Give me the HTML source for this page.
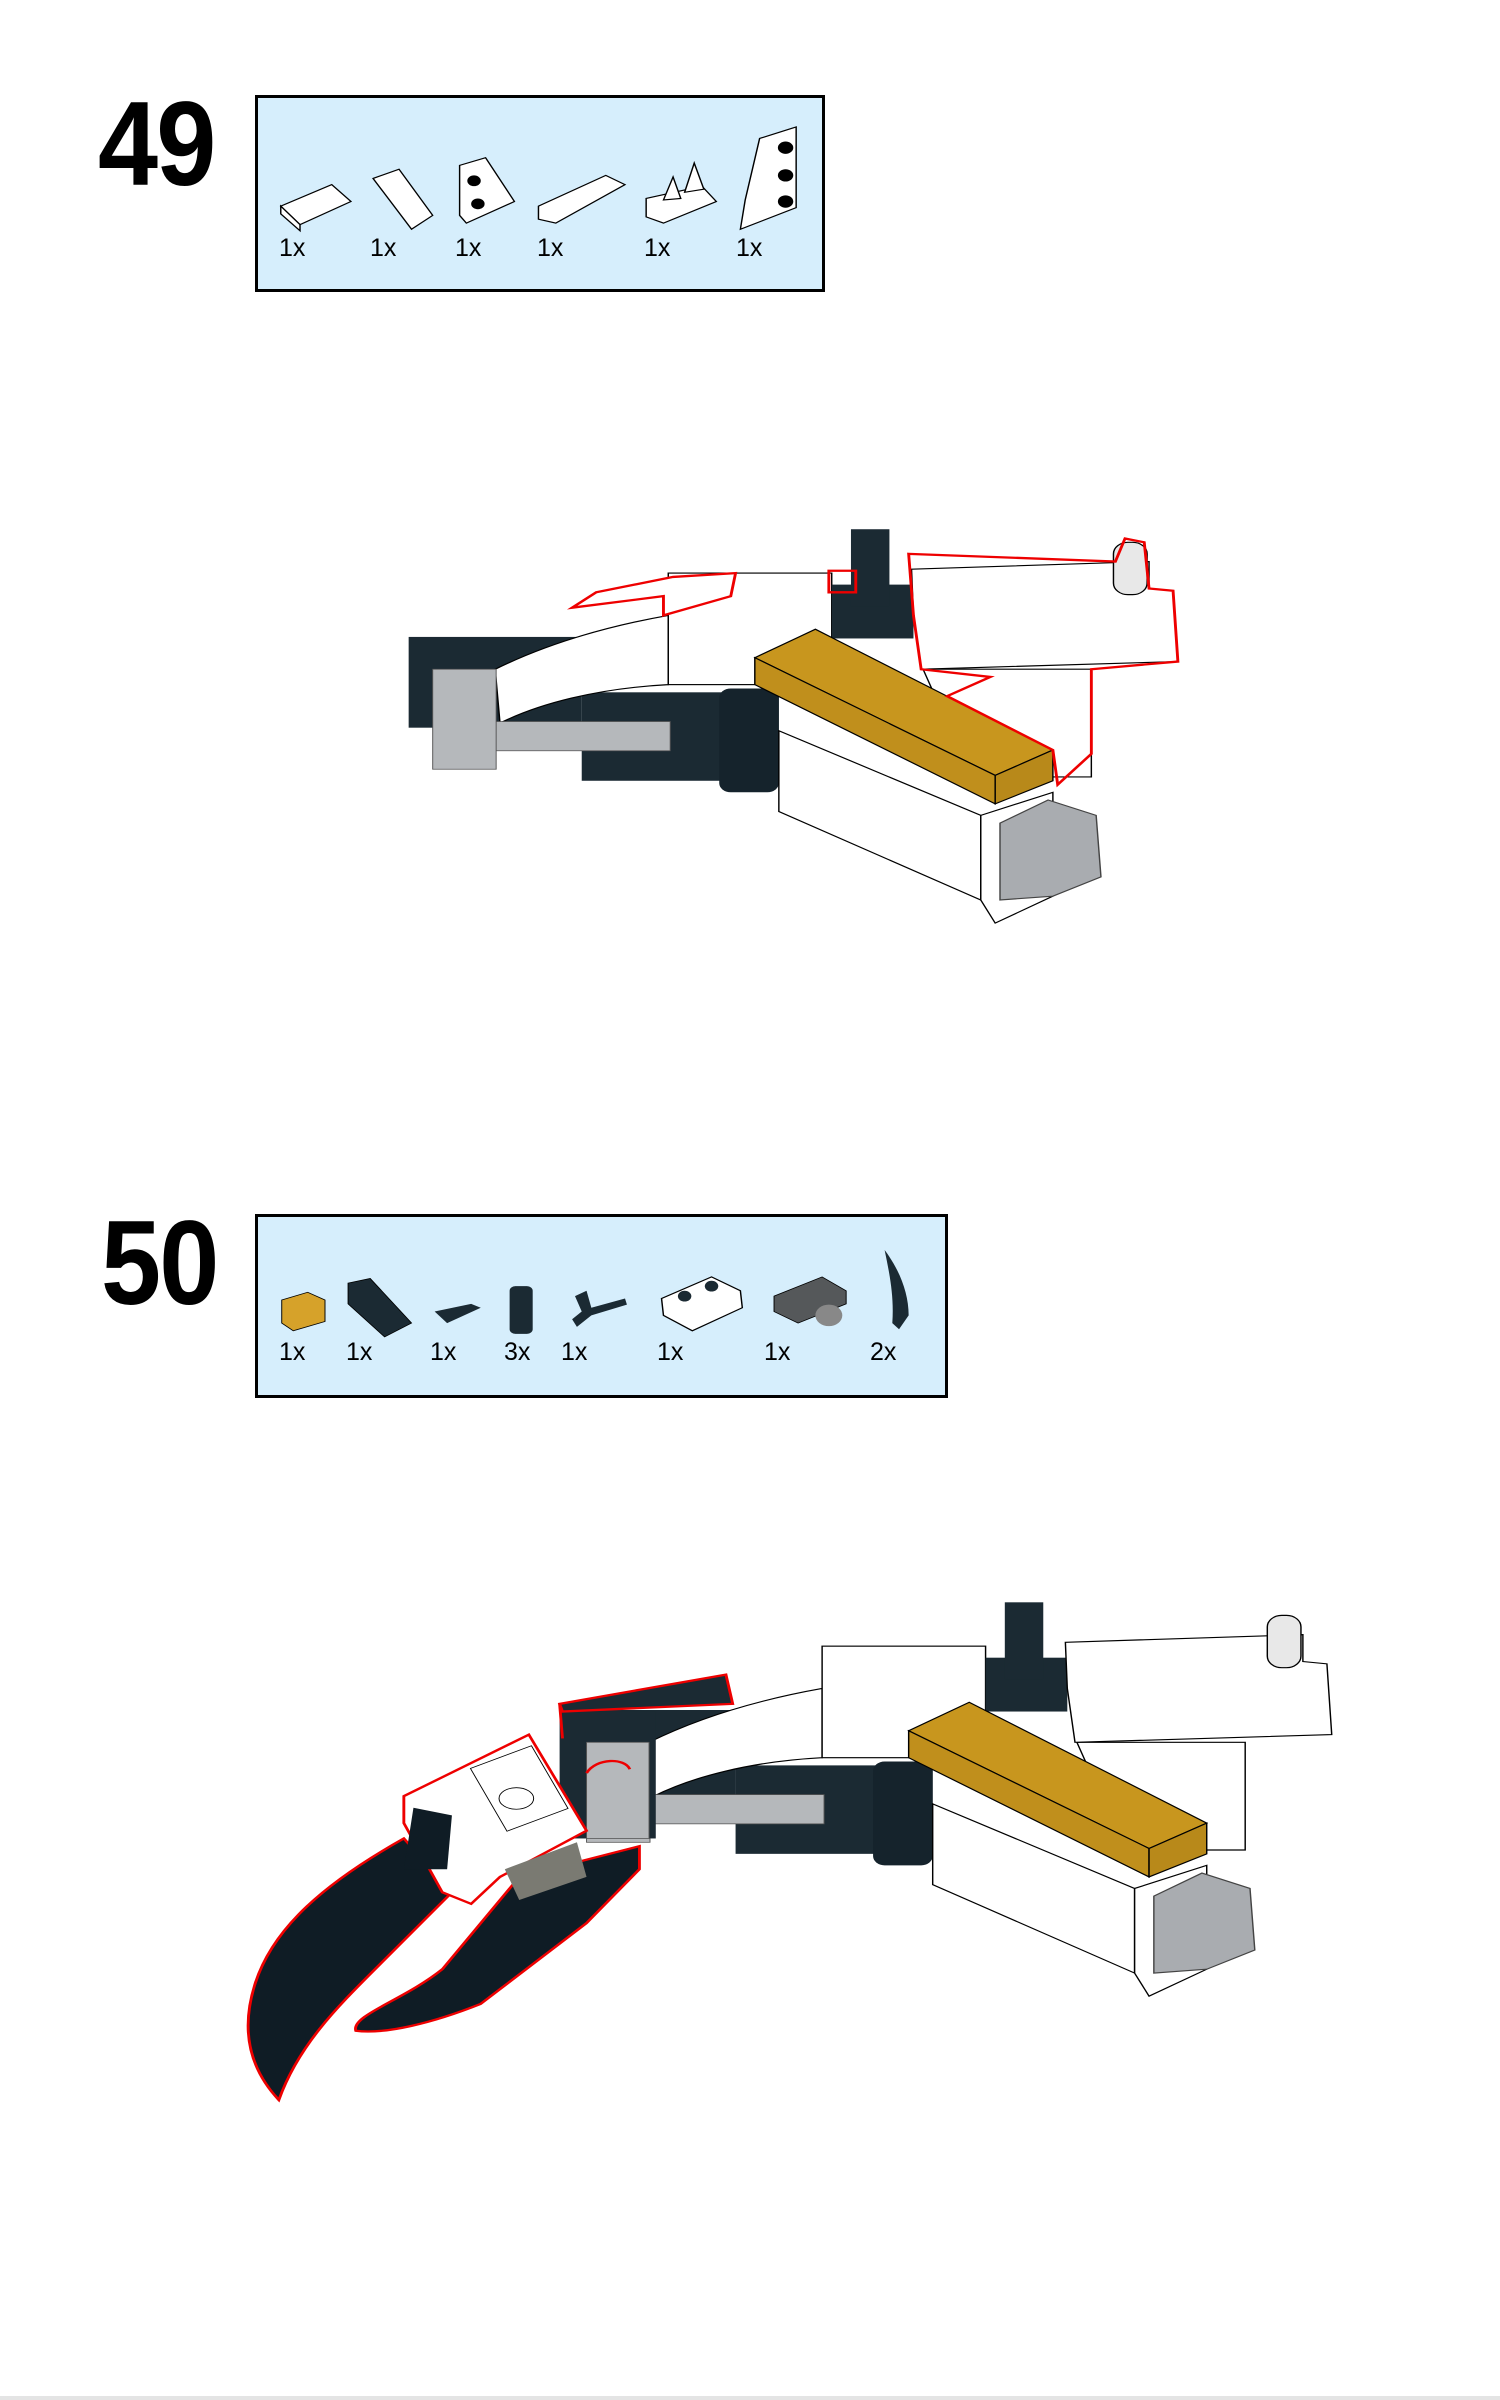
<!DOCTYPE html>
<html><head><meta charset="utf-8"><style>
html,body{margin:0;padding:0;background:#fff;}
body{width:1500px;height:2400px;position:relative;overflow:hidden;font-family:"Liberation Sans",sans-serif;}
.num{position:absolute;font-weight:bold;font-size:120px;line-height:1;transform-origin:0 0;transform:scaleX(0.9);color:#000;letter-spacing:-2px;}
.box{position:absolute;background:#d6eefc;border:3px solid #000;box-sizing:border-box;}
.lbl{position:absolute;font-size:25px;color:#000;}
svg{position:absolute;left:0;}
</style></head><body>
<div class="num" style="left:98px;top:84px;">49</div>
<div class="box" style="left:255px;top:95px;width:570px;height:197px;"></div>
<div class="lbl" style="left:279px;top:234px;">1x</div>
<div class="lbl" style="left:370px;top:234px;">1x</div>
<div class="lbl" style="left:455px;top:234px;">1x</div>
<div class="lbl" style="left:537px;top:234px;">1x</div>
<div class="lbl" style="left:644px;top:234px;">1x</div>
<div class="lbl" style="left:736px;top:234px;">1x</div>

<div class="num" style="left:101px;top:1203px;">50</div>
<div class="box" style="left:255px;top:1214px;width:693px;height:184px;"></div>
<div class="lbl" style="left:279px;top:1338px;">1x</div>
<div class="lbl" style="left:346px;top:1338px;">1x</div>
<div class="lbl" style="left:430px;top:1338px;">1x</div>
<div class="lbl" style="left:504px;top:1338px;">3x</div>
<div class="lbl" style="left:561px;top:1338px;">1x</div>
<div class="lbl" style="left:657px;top:1338px;">1x</div>
<div class="lbl" style="left:764px;top:1338px;">1x</div>
<div class="lbl" style="left:870px;top:1338px;">2x</div>

<svg width="1500" height="1200" viewBox="0 0 1560 1560" preserveAspectRatio="none" style="top:0">
<defs>
<g id="body">
 <rect x="425" y="828" width="180" height="118" fill="#1b2a33"/>
 <rect x="605" y="900" width="205" height="115" fill="#1b2a33"/>
 <rect x="748" y="895" width="62" height="135" rx="12" fill="#15232c"/>
 <path d="M515,870 C580,830 650,810 695,800 L695,890 C620,895 560,915 520,940 Z" fill="#fff" stroke="#000" stroke-width="1.5"/>
 <rect x="695" y="745" width="170" height="145" fill="#fff" stroke="#000" stroke-width="1.5"/>
 <rect x="865" y="760" width="85" height="70" fill="#1b2a33"/>
 <rect x="885" y="688" width="40" height="100" fill="#1b2a33"/>
 <rect x="515" y="938" width="182" height="38" fill="#b5b8bb" stroke="#555" stroke-width="1"/>
 <rect x="450" y="870" width="66" height="130" fill="#b5b8bb" stroke="#555" stroke-width="1"/>
 <path d="M960,870 L1135,870 L1135,1010 L1010,1010 Z" fill="#fff" stroke="#000" stroke-width="1.5"/>
 <path d="M810,950 L1020,1060 L1020,1170 L810,1055 Z" fill="#fff" stroke="#000" stroke-width="1.5"/>
 <path d="M1020,1060 L1095,1030 L1095,1165 L1035,1200 L1020,1170 Z" fill="#fff" stroke="#000" stroke-width="1.5"/>
 <path d="M1040,1070 L1090,1040 L1140,1060 L1145,1140 L1095,1165 L1040,1170 Z" fill="#a9acb0" stroke="#444" stroke-width="1.5"/>
 <path d="M785,855 L848,818 L1095,975 L1035,1008 Z" fill="#c8961e" stroke="#000" stroke-width="1.5"/>
 <path d="M785,855 L1035,1008 L1035,1045 L785,890 Z" fill="#c08f1c" stroke="#000" stroke-width="1.5"/>
 <path d="M1035,1008 L1095,975 L1095,1015 L1035,1045 Z" fill="#b8891a" stroke="#000" stroke-width="1.5"/>
 <path d="M948,740 L1195,730 L1195,765 L1220,768 L1225,860 L958,870 L950,800 Z" fill="#fff" stroke="#000" stroke-width="1.5"/>
 <rect x="1158" y="705" width="35" height="68" rx="15" fill="#e8e8e8" stroke="#000" stroke-width="1.5"/>
</g>
</defs>
<g fill="#fff" stroke="#000" stroke-width="1.5">
 <path d="M292,268 L345,240 L365,262 L312,292 Z"/><path d="M292,268 L312,292 L312,300 L292,278Z"/>
 <path d="M388,232 L415,220 L450,280 L428,298 Z"/>
 <path d="M478,215 L505,205 L535,262 L485,290 L478,280Z"/>
 <path d="M560,268 L630,228 L650,240 L578,290 L560,285 Z"/>
 <path d="M672,258 L730,242 L745,262 L690,290 L672,282 Z"/><path d="M690,260 L700,230 L708,258Z"/><path d="M712,250 L722,212 L732,246Z"/>
 <path d="M790,180 L828,165 L828,270 L770,298 L775,260 Z"/>
</g>
<g fill="#000"><circle cx="493" cy="235" r="7"/><circle cx="497" cy="265" r="7"/><circle cx="817" cy="192" r="8"/><circle cx="817" cy="228" r="8"/><circle cx="817" cy="262" r="8"/></g>
<use href="#body"/>
<path d="M595,790 L690,775 L690,800 L760,775 L765,745 L700,750 L620,770 Z" fill="#fff" stroke="#e00" stroke-width="3"/>
<path d="M862,742 L890,742 L890,770 L862,770 Z" fill="none" stroke="#e00" stroke-width="3"/>
<path d="M945,720 L1160,730 L1170,700 L1190,705 L1195,765 L1220,768 L1225,860 L1135,870 L1135,980 L1100,1020 L1095,975 L985,905 L1030,880 L958,870 L950,800 Z" fill="none" stroke="#e00" stroke-width="3"/>
</svg>

<svg width="1500" height="1200" viewBox="0 0 1560 1560" preserveAspectRatio="none" style="top:1200px">
<path d="M293,130 L320,120 L338,130 L338,158 L305,170 L293,160 Z" fill="#d6a22a" stroke="#000"/>
<path d="M362,108 L385,102 L428,160 L400,178 L362,135 Z" fill="#1b2a33" stroke="#000"/>
<path d="M452,145 L490,135 L500,140 L465,160 Z" fill="#1b2a33"/>
<rect x="530" y="112" width="24" height="62" rx="6" fill="#1b2a33"/>
<path d="M598,125 L610,118 L615,140 L650,128 L652,136 L615,150 L600,165 L595,155 L605,145 Z" fill="#1b2a33"/>
<path d="M688,128 L740,100 L770,118 L772,140 L720,170 L690,150 Z" fill="#fff" stroke="#000" stroke-width="1.5"/>
<circle cx="712" cy="125" r="7" fill="#1b2a33"/><circle cx="740" cy="112" r="7" fill="#1b2a33"/>
<path d="M805,125 L855,100 L880,118 L880,135 L830,160 L805,145 Z" fill="#55585a" stroke="#000"/>
<circle cx="862" cy="150" r="14" fill="#888"/>
<path d="M920,65 C935,90 945,120 945,150 L935,168 L928,160 C930,125 925,95 920,65Z" fill="#1b2a33"/>
<g transform="translate(160,-165)"><use href="#body"/></g>
<rect x="582" y="665" width="100" height="165" fill="#1b2a33"/>
<path d="M582,655 L755,617 L762,655 L585,665 Z" fill="#1b2a33" stroke="#e00" stroke-width="3"/>
<path d="M582,655 L585,700" stroke="#e00" stroke-width="3"/>
<rect x="610" y="705" width="65" height="125" fill="#b5b8bb" stroke="#555"/>
<path d="M610,745 C620,725 650,725 655,740" fill="none" stroke="#e00" stroke-width="3"/>
<path d="M420,830 L470,900 L390,1000 C350,1050 310,1100 290,1170 C260,1130 250,1080 265,1020 C280,960 320,900 420,830 Z" fill="#0f1c25" stroke="#e00" stroke-width="3"/>
<path d="M540,880 L665,840 L665,870 L610,940 L500,1045 C450,1070 400,1085 370,1080 C365,1060 420,1040 460,1000 Z" fill="#0f1c25" stroke="#e00" stroke-width="3"/>
<path d="M420,775 L550,695 L610,820 L520,880 L490,915 L460,900 L420,810 Z" fill="#fff" stroke="#e00" stroke-width="3"/>
<rect x="505" y="720" width="70" height="90" fill="#fff" stroke="#000" transform="rotate(-25 540 765)"/>
<ellipse cx="537" cy="778" rx="18" ry="14" fill="#fff" stroke="#000"/>
<path d="M525,870 L600,835 L610,880 L540,910 Z" fill="#7a7a72"/>
<path d="M430,790 L470,800 L465,870 L420,870 Z" fill="#0f1c25"/>
</svg>
<div style="position:absolute;left:0;top:2396px;width:1500px;height:4px;background:#e4e4e4"></div>
</body></html>
